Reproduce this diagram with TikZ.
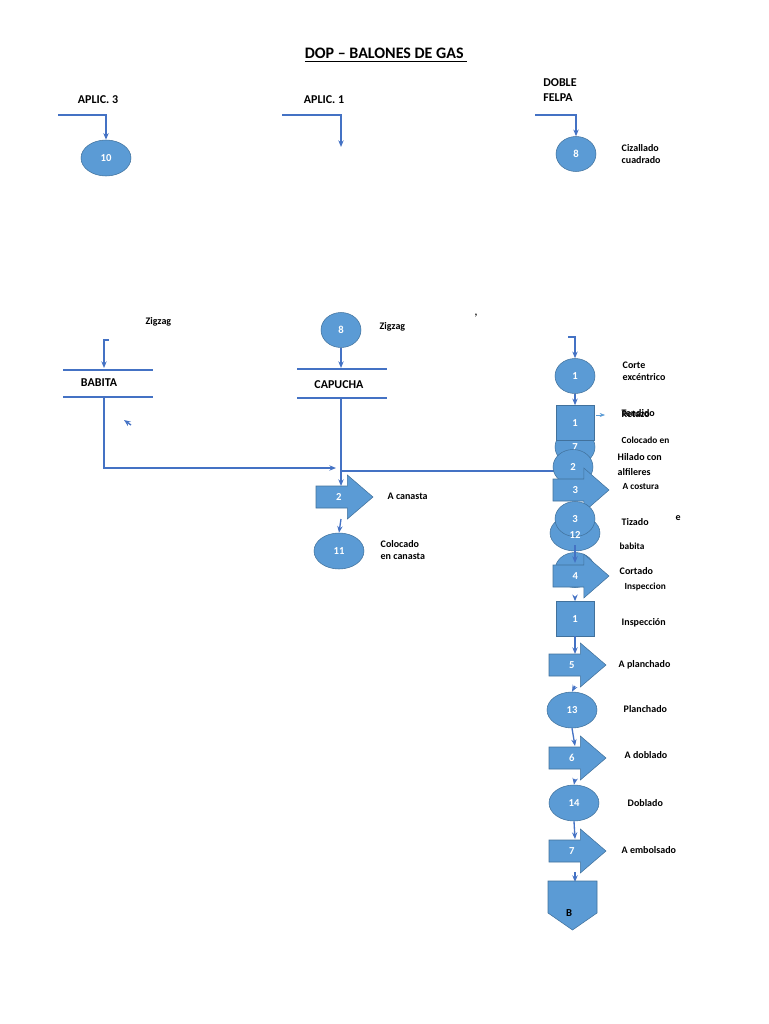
\documentclass[tikz,border=0pt]{standalone}
\usepackage{fontspec}
\setmainfont{Carlito}
\usetikzlibrary{arrows.meta,shapes.geometric}
\definecolor{sf}{HTML}{5B9BD5}
\definecolor{sb}{HTML}{41719C}
\definecolor{ln}{HTML}{4472C4}
\begin{document}
\begin{tikzpicture}[x=0.75pt,y=-0.75pt,
  op/.style={ellipse,draw=sb,fill=sf,text=white,font=\bfseries\fontsize{8}{9}\selectfont,minimum width=50*0.75pt,minimum height=36*0.75pt,inner sep=0pt},
  ops/.style={op,minimum width=40*0.75pt,minimum height=35*0.75pt},
  ins/.style={draw=sb,fill=sf,text=white,font=\bfseries\fontsize{8}{9}\selectfont,minimum width=38*0.75pt,minimum height=35*0.75pt,inner sep=0pt},
  lb/.style={font=\bfseries\fontsize{7.5}{9}\selectfont,align=left,anchor=west},
  hd/.style={font=\bfseries\fontsize{9}{11}\selectfont,align=left},
  ln/.style={draw=ln,line width=1pt},
  ar/.style={ln,-{Stealth[length=5pt,width=4pt]}},
  tr/.style={draw=sb,fill=sf},
  nm/.style={text=white,font=\bfseries\fontsize{8}{9}\selectfont}]
\useasboundingbox (0,0) rectangle (768,1024);
\newcommand{\tarrow}[5]{% name, x0, x1, ymid, label
 \path[tr] ({#2},{#4-11}) -- ({#2+0.55*(#3-#2)},{#4-11}) -- ({#2+0.55*(#3-#2)},{#4-22}) -- ({#3},{#4}) -- ({#2+0.55*(#3-#2)},{#4+22}) -- ({#2+0.55*(#3-#2)},{#4+11}) -- ({#2},{#4+11}) -- cycle;
 \node[nm] (#1) at ({#2+0.4*(#3-#2)},{#4}) {#5};}
\node[font=\bfseries\fontsize{12}{14}\selectfont] (title) at (386,55) {\underline{DOP – BALONES DE GAS }};
% top row
\node[hd] (ap3) at (98,100) {APLIC. 3};
\node[op] (c10) at (106,158) {10};
\coordinate (a3s) at (58,115); \coordinate (a3c) at (106,115);
\draw[ar] (a3s) -- (a3c) -- (c10.north);
\node[hd] (ap1) at (324,100) {APLIC. 1};
\coordinate (a1s) at (282,115); \coordinate (a1c) at (341,115); \coordinate (a1e) at (341,147);
\draw[ar] (a1s) -- (a1c) -- (a1e);
\node[hd] (df) at (560,90) {DOBLE\\FELPA};
\node[ops] (c8a) at (576,154) {8};
\coordinate (dfs) at (535,115); \coordinate (dfc) at (576,115);
\draw[ar] (dfs) -- (dfc) -- (c8a.north);
\node[lb] (t1) at (617,154) {Cizallado\\cuadrado};
% babita
\node[lb] (zz1) at (141,322) {Zigzag};
\coordinate (b0) at (109,340); \coordinate (b1) at (104,340); \coordinate (b2) at (104,368);
\draw[ar] (b0) -- (b1) -- (b2);
\draw[ln] (63,370) -- (153,370) (63,397) -- (153,397);
\node[hd] (bab) at (99,383) {BABITA};
\coordinate (sm1) at (131,425); \coordinate (sm2) at (124,420);
\draw[ar] (sm1) -- (sm2);
% capucha
\node[ops] (c8b) at (341,330) {8};
\node[lb] (zz2) at (375,327) {Zigzag};
\coordinate (cp) at (341,368);
\draw[ar] (c8b.south) -- (cp);
\draw[ln] (297,369) -- (387,369) (297,398) -- (387,398);
\node[hd] (cap) at (339,385) {CAPUCHA};
\node (q) at (476,316) {,};
% joins
\coordinate (bb) at (104,398); \coordinate (bj) at (104,468); \coordinate (bj2) at (336,468);
\draw[ar] (bb) -- (bj) -- (bj2);
\coordinate (cb) at (341,398); \coordinate (cj) at (341,486);
\draw[ar] (cb) -- (cj);
\coordinate (rj0) at (341,471); \coordinate (rj1) at (560,471);
\draw[ln] (rj0) -- (rj1);
\tarrow{t2}{316}{373}{497}{2}
\node[lb] (t2l) at (383,496) {A canasta};
\node[op] (c11) at (339,551) {11};
\coordinate (t2b) at (341,519);
\draw[ar] (t2b) -- (c11.north);
\node[lb] (c11l) at (376,550) {Colocado\\en canasta};
% right column
\coordinate (r0) at (568,337); \coordinate (r1) at (575,337);
\node[ops] (r1c) at (575,376) {1};
\draw[ar] (r0) -- (r1) -- (r1c.north);
\node[lb] (r1l) at (618,371) {Corte\\excéntrico};
\node[ops] (c7) at (575,447) {7};
\node[ops] (c2) at (573,467) {2};
\node[ins] (i1) at (575,423) {1};
\draw[ar] (r1c.south) -- (i1.north);
\coordinate (s1) at (596,415); \coordinate (s2) at (605,415);
\draw[draw=sf,-{Stealth[length=4pt]}] (s1) -- (s2);
\node[lb] (ret) at (617,414) {Retazo};
\node[lb] (ten) at (617,413) {Tendido};
\node[lb,font=\bfseries\fontsize{7}{8}\selectfont] (col) at (617,440) {Colocado en};
\node[lb] (hil) at (613,457) {Hilado con};
\node[lb] (alf) at (613,472) {alfileres};
\tarrow{t3}{553}{609}{490}{3}
\node[lb,font=\bfseries\fontsize{7}{8}\selectfont] (acos) at (618,487) {A costura};
\node[op] (c12) at (575,533) {};
\node[ops] (c3) at (575,519) {3};
\node[nm] (n12) at (575,535) {12};
\node[lb] (tiz) at (617,522) {Tizado};
\node[lb] (e) at (671,518) {e};
\node[lb,font=\bfseries\fontsize{7}{8}\selectfont] (bab2) at (615,546) {babita};
\node[ops] (c4) at (575,570) {};
\tarrow{t4}{553}{609}{576}{4}
\node[lb] (cor) at (615,571) {Cortado};
\node[lb,font=\bfseries\fontsize{7}{8}\selectfont] (insp0) at (620,587) {Inspeccion};
\coordinate (k1) at (575,545); \coordinate (k2) at (575,563);
\draw[ar] (k1) -- (k2);
\node[ins] (i2) at (575,619) {1};
\coordinate (k3) at (575,598);
\draw[ar] (k3) -- (i2.north);
\node[lb] (insp) at (617,623) {Inspección};
\tarrow{t5}{549}{606}{665}{5}
\node[lb] (apl) at (614,665) {A planchado};
\node[op] (c13) at (572,710) {13};
\node[lb] (pla) at (619,709) {Planchado};
\tarrow{t6}{549}{606}{758}{6}
\node[lb] (adob) at (620,755) {A doblado};
\node[op] (c14) at (574,803) {14};
\node[lb] (dob) at (623,803) {Doblado};
\tarrow{t7}{549}{606}{851}{7}
\node[lb] (aem) at (617,850) {A embolsado};
\coordinate (k4) at (575,636); \coordinate (k5) at (575,654);
\coordinate (k6) at (575,686); \coordinate (k7) at (575,746);
\coordinate (k8) at (575,779); \coordinate (k9) at (575,839);
\coordinate (k10) at (575,872); \coordinate (k11) at (575,882);
\draw[ar] (k4) -- (k5); \draw[ar] (k6) -- (c13.north); \draw[ar] (c13.south) -- (k7);
\draw[ar] (k8) -- (c14.north); \draw[ar] (c14.south) -- (k9); \draw[ar] (k10) -- (k11);
\path[tr] (548,881) -- (597,881) -- (597,913) -- (572.5,930) -- (548,913) -- cycle;
\node[font=\bfseries\fontsize{8}{9}\selectfont] (B) at (569,913) {B};
\end{tikzpicture}
\end{document}
